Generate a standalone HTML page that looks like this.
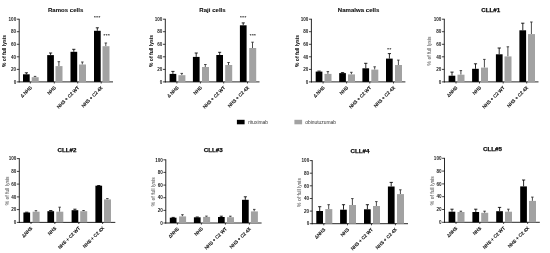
<!DOCTYPE html><html><head><meta charset="utf-8"><title>figure</title><style>html,body{margin:0;padding:0;background:#fff}svg{display:block;filter:blur(0.3px)}text{font-family:"Liberation Sans",sans-serif}</style></head><body>
<svg width="550" height="253" viewBox="0 0 550 253">
<rect width="550" height="253" fill="#fff"/>
<g>
<text x="65.7" y="12.2" font-size="6.0" stroke="#111" stroke-width="0.1" letter-spacing="0.04" font-weight="bold" text-anchor="middle" fill="#111">Ramos cells</text>
<text transform="translate(6.4,51.0) rotate(-90)" font-size="5" font-weight="bold" text-anchor="middle" fill="#000">% of full lysis</text>
<path d="M19.2 18.8V82.4M18.8 81.9H113.0" stroke="#111" stroke-width="0.9" fill="none"/>
<path d="M16.8 81.9H19.2" stroke="#111" stroke-width="0.8"/>
<text x="16.2" y="83.6" font-size="4.6" font-weight="bold" text-anchor="end" fill="#222">0</text>
<path d="M16.8 69.4H19.2" stroke="#111" stroke-width="0.8"/>
<text x="16.2" y="71.0" font-size="4.6" font-weight="bold" text-anchor="end" fill="#222">20</text>
<path d="M16.8 56.8H19.2" stroke="#111" stroke-width="0.8"/>
<text x="16.2" y="58.5" font-size="4.6" font-weight="bold" text-anchor="end" fill="#222">40</text>
<path d="M16.8 44.3H19.2" stroke="#111" stroke-width="0.8"/>
<text x="16.2" y="45.9" font-size="4.6" font-weight="bold" text-anchor="end" fill="#222">60</text>
<path d="M16.8 31.7H19.2" stroke="#111" stroke-width="0.8"/>
<text x="16.2" y="33.4" font-size="4.6" font-weight="bold" text-anchor="end" fill="#222">80</text>
<path d="M16.8 19.2H19.2" stroke="#111" stroke-width="0.8"/>
<text x="16.2" y="20.9" font-size="4.6" font-weight="bold" text-anchor="end" fill="#222">100</text>
<path d="M26.4 74.3V72.8M24.8 72.8H28.0" stroke="#000" stroke-width="0.85" fill="none"/>
<path d="M35.0 77.2V76.4M33.8 76.4H36.3" stroke="#2a2a2a" stroke-width="0.85" fill="none"/>
<rect x="23.0" y="74.3" width="6.7" height="7.6" fill="#000"/>
<rect x="31.7" y="77.2" width="7.0" height="4.7" fill="#a2a2a2"/>
<path d="M30.3 81.9v1.6" stroke="#111" stroke-width="0.8"/>
<text transform="translate(32.1,88.1) rotate(-45)" font-size="4.6" text-anchor="end" fill="#111" stroke="#111" stroke-width="0.2">Δ NHS</text>
<path d="M50.6 55.1V53.0M49.0 53.0H52.2" stroke="#000" stroke-width="0.85" fill="none"/>
<path d="M58.9 66.1V61.7M57.6 61.7H60.1" stroke="#2a2a2a" stroke-width="0.85" fill="none"/>
<rect x="47.2" y="55.1" width="6.7" height="26.8" fill="#000"/>
<rect x="55.5" y="66.1" width="7.0" height="15.8" fill="#a2a2a2"/>
<path d="M54.3 81.9v1.6" stroke="#111" stroke-width="0.8"/>
<text transform="translate(56.1,88.1) rotate(-45)" font-size="4.6" text-anchor="end" fill="#111" stroke="#111" stroke-width="0.2">NHS</text>
<path d="M73.8 51.8V49.3M72.2 49.3H75.4" stroke="#000" stroke-width="0.85" fill="none"/>
<path d="M82.3 64.5V62.0M81.1 62.0H83.6" stroke="#2a2a2a" stroke-width="0.85" fill="none"/>
<rect x="70.5" y="51.8" width="6.7" height="30.1" fill="#000"/>
<rect x="79.0" y="64.5" width="7.0" height="17.4" fill="#a2a2a2"/>
<path d="M77.7 81.9v1.6" stroke="#111" stroke-width="0.8"/>
<text transform="translate(79.5,88.1) rotate(-45)" font-size="4.6" text-anchor="end" fill="#111" stroke="#111" stroke-width="0.2">NHS + C2 WT</text>
<path d="M97.3 30.8V27.8M95.8 27.8H98.9" stroke="#000" stroke-width="0.85" fill="none"/>
<path d="M105.8 46.2V43.0M104.6 43.0H107.1" stroke="#2a2a2a" stroke-width="0.85" fill="none"/>
<rect x="94.0" y="30.8" width="6.7" height="51.1" fill="#000"/>
<rect x="102.5" y="46.2" width="7.0" height="35.7" fill="#a2a2a2"/>
<path d="M101.2 81.9v1.6" stroke="#111" stroke-width="0.8"/>
<text transform="translate(103.0,88.1) rotate(-45)" font-size="4.6" text-anchor="end" fill="#111" stroke="#111" stroke-width="0.2">NHS + C2 4X</text>
<text x="97.4" y="19.4" font-size="4.4" letter-spacing="0.5" text-anchor="middle" fill="#333" stroke="#333" stroke-width="0.15">***</text>
<text x="106.9" y="37.4" font-size="4.4" letter-spacing="0.5" text-anchor="middle" fill="#333" stroke="#333" stroke-width="0.15">***</text>
</g>
<g>
<text x="212.5" y="12.2" font-size="6.0" stroke="#111" stroke-width="0.1" letter-spacing="0.04" font-weight="bold" text-anchor="middle" fill="#111">Raji cells</text>
<text transform="translate(152.5,51.0) rotate(-90)" font-size="5" font-weight="bold" text-anchor="middle" fill="#000">% of full lysis</text>
<path d="M165.3 18.8V82.4M164.9 81.9H259.5" stroke="#111" stroke-width="0.9" fill="none"/>
<path d="M162.9 81.9H165.3" stroke="#111" stroke-width="0.8"/>
<text x="162.3" y="83.6" font-size="4.6" font-weight="bold" text-anchor="end" fill="#222">0</text>
<path d="M162.9 69.4H165.3" stroke="#111" stroke-width="0.8"/>
<text x="162.3" y="71.0" font-size="4.6" font-weight="bold" text-anchor="end" fill="#222">20</text>
<path d="M162.9 56.8H165.3" stroke="#111" stroke-width="0.8"/>
<text x="162.3" y="58.5" font-size="4.6" font-weight="bold" text-anchor="end" fill="#222">40</text>
<path d="M162.9 44.3H165.3" stroke="#111" stroke-width="0.8"/>
<text x="162.3" y="45.9" font-size="4.6" font-weight="bold" text-anchor="end" fill="#222">60</text>
<path d="M162.9 31.7H165.3" stroke="#111" stroke-width="0.8"/>
<text x="162.3" y="33.4" font-size="4.6" font-weight="bold" text-anchor="end" fill="#222">80</text>
<path d="M162.9 19.2H165.3" stroke="#111" stroke-width="0.8"/>
<text x="162.3" y="20.9" font-size="4.6" font-weight="bold" text-anchor="end" fill="#222">100</text>
<path d="M172.9 73.9V71.4M171.3 71.4H174.5" stroke="#000" stroke-width="0.85" fill="none"/>
<path d="M181.8 75.2V73.4M180.5 73.4H183.0" stroke="#2a2a2a" stroke-width="0.85" fill="none"/>
<rect x="169.6" y="73.9" width="6.7" height="8.0" fill="#000"/>
<rect x="178.4" y="75.2" width="7.0" height="6.7" fill="#a2a2a2"/>
<path d="M176.9 81.9v1.6" stroke="#111" stroke-width="0.8"/>
<text transform="translate(178.8,88.1) rotate(-45)" font-size="4.6" text-anchor="end" fill="#111" stroke="#111" stroke-width="0.2">Δ NHS</text>
<path d="M196.2 56.9V53.0M194.7 53.0H197.8" stroke="#000" stroke-width="0.85" fill="none"/>
<path d="M205.3 67.0V64.5M204.1 64.5H206.6" stroke="#2a2a2a" stroke-width="0.85" fill="none"/>
<rect x="192.9" y="56.9" width="6.7" height="25.0" fill="#000"/>
<rect x="202.0" y="67.0" width="7.0" height="14.9" fill="#a2a2a2"/>
<path d="M200.4 81.9v1.6" stroke="#111" stroke-width="0.8"/>
<text transform="translate(202.2,88.1) rotate(-45)" font-size="4.6" text-anchor="end" fill="#111" stroke="#111" stroke-width="0.2">NHS</text>
<path d="M219.7 55.0V52.3M218.1 52.3H221.2" stroke="#000" stroke-width="0.85" fill="none"/>
<path d="M228.5 65.0V62.5M227.3 62.5H229.8" stroke="#2a2a2a" stroke-width="0.85" fill="none"/>
<rect x="216.3" y="55.0" width="6.7" height="26.9" fill="#000"/>
<rect x="225.2" y="65.0" width="7.0" height="16.9" fill="#a2a2a2"/>
<path d="M223.7 81.9v1.6" stroke="#111" stroke-width="0.8"/>
<text transform="translate(225.5,88.1) rotate(-45)" font-size="4.6" text-anchor="end" fill="#111" stroke="#111" stroke-width="0.2">NHS + C2 WT</text>
<path d="M243.2 25.3V22.9M241.7 22.9H244.8" stroke="#000" stroke-width="0.85" fill="none"/>
<path d="M252.5 48.0V42.2M251.3 42.2H253.8" stroke="#2a2a2a" stroke-width="0.85" fill="none"/>
<rect x="239.9" y="25.3" width="6.7" height="56.6" fill="#000"/>
<rect x="249.2" y="48.0" width="7.0" height="33.9" fill="#a2a2a2"/>
<path d="M247.5 81.9v1.6" stroke="#111" stroke-width="0.8"/>
<text transform="translate(249.3,88.1) rotate(-45)" font-size="4.6" text-anchor="end" fill="#111" stroke="#111" stroke-width="0.2">NHS + C2 4X</text>
<text x="243.4" y="19.4" font-size="4.4" letter-spacing="0.5" text-anchor="middle" fill="#333" stroke="#333" stroke-width="0.15">***</text>
<text x="253.0" y="37.4" font-size="4.4" letter-spacing="0.5" text-anchor="middle" fill="#333" stroke="#333" stroke-width="0.15">***</text>
</g>
<g>
<text x="358.6" y="12.2" font-size="6.0" stroke="#111" stroke-width="0.1" letter-spacing="0.04" font-weight="bold" text-anchor="middle" fill="#111">Namalwa cells</text>
<text transform="translate(299.0,51.0) rotate(-90)" font-size="5" font-weight="bold" text-anchor="middle" fill="#000">% of full lysis</text>
<path d="M311.4 18.8V82.4M311.0 81.9H405.4" stroke="#111" stroke-width="0.9" fill="none"/>
<path d="M309.0 81.9H311.4" stroke="#111" stroke-width="0.8"/>
<text x="308.4" y="83.6" font-size="4.6" font-weight="bold" text-anchor="end" fill="#222">0</text>
<path d="M309.0 69.4H311.4" stroke="#111" stroke-width="0.8"/>
<text x="308.4" y="71.0" font-size="4.6" font-weight="bold" text-anchor="end" fill="#222">20</text>
<path d="M309.0 56.8H311.4" stroke="#111" stroke-width="0.8"/>
<text x="308.4" y="58.5" font-size="4.6" font-weight="bold" text-anchor="end" fill="#222">40</text>
<path d="M309.0 44.3H311.4" stroke="#111" stroke-width="0.8"/>
<text x="308.4" y="45.9" font-size="4.6" font-weight="bold" text-anchor="end" fill="#222">60</text>
<path d="M309.0 31.7H311.4" stroke="#111" stroke-width="0.8"/>
<text x="308.4" y="33.4" font-size="4.6" font-weight="bold" text-anchor="end" fill="#222">80</text>
<path d="M309.0 19.2H311.4" stroke="#111" stroke-width="0.8"/>
<text x="308.4" y="20.9" font-size="4.6" font-weight="bold" text-anchor="end" fill="#222">100</text>
<path d="M319.1 71.6V71.1M317.4 71.1H320.7" stroke="#000" stroke-width="0.85" fill="none"/>
<path d="M327.9 73.9V71.6M326.6 71.6H329.1" stroke="#2a2a2a" stroke-width="0.85" fill="none"/>
<rect x="315.7" y="71.6" width="6.7" height="10.3" fill="#000"/>
<rect x="324.5" y="73.9" width="7.0" height="8.0" fill="#a2a2a2"/>
<path d="M323.1 81.9v1.6" stroke="#111" stroke-width="0.8"/>
<text transform="translate(324.9,88.1) rotate(-45)" font-size="4.6" text-anchor="end" fill="#111" stroke="#111" stroke-width="0.2">Δ NHS</text>
<path d="M342.6 73.1V72.6M340.9 72.6H344.2" stroke="#000" stroke-width="0.85" fill="none"/>
<path d="M351.4 74.4V72.3M350.1 72.3H352.6" stroke="#2a2a2a" stroke-width="0.85" fill="none"/>
<rect x="339.2" y="73.1" width="6.7" height="8.8" fill="#000"/>
<rect x="348.0" y="74.4" width="7.0" height="7.5" fill="#a2a2a2"/>
<path d="M346.6 81.9v1.6" stroke="#111" stroke-width="0.8"/>
<text transform="translate(348.4,88.1) rotate(-45)" font-size="4.6" text-anchor="end" fill="#111" stroke="#111" stroke-width="0.2">NHS</text>
<path d="M365.8 68.3V63.3M364.1 63.3H367.4" stroke="#000" stroke-width="0.85" fill="none"/>
<path d="M374.7 69.6V66.8M373.4 66.8H375.9" stroke="#2a2a2a" stroke-width="0.85" fill="none"/>
<rect x="362.4" y="68.3" width="6.7" height="13.6" fill="#000"/>
<rect x="371.3" y="69.6" width="7.0" height="12.3" fill="#a2a2a2"/>
<path d="M369.8 81.9v1.6" stroke="#111" stroke-width="0.8"/>
<text transform="translate(371.6,88.1) rotate(-45)" font-size="4.6" text-anchor="end" fill="#111" stroke="#111" stroke-width="0.2">NHS + C2 WT</text>
<path d="M389.4 58.6V53.6M387.8 53.6H391.0" stroke="#000" stroke-width="0.85" fill="none"/>
<path d="M398.4 65.0V60.1M397.1 60.1H399.6" stroke="#2a2a2a" stroke-width="0.85" fill="none"/>
<rect x="386.0" y="58.6" width="6.7" height="23.3" fill="#000"/>
<rect x="395.0" y="65.0" width="7.0" height="16.9" fill="#a2a2a2"/>
<path d="M393.5 81.9v1.6" stroke="#111" stroke-width="0.8"/>
<text transform="translate(395.3,88.1) rotate(-45)" font-size="4.6" text-anchor="end" fill="#111" stroke="#111" stroke-width="0.2">NHS + C2 4X</text>
<text x="389.5" y="51.4" font-size="4.4" letter-spacing="0.5" text-anchor="middle" fill="#333" stroke="#333" stroke-width="0.15">**</text>
</g>
<g>
<text x="490.8" y="12.2" font-size="6.2" stroke="#000" stroke-width="0.25" font-weight="bold" text-anchor="middle" fill="#111">CLL#1</text>
<text transform="translate(430.9,51.0) rotate(-90)" font-size="5.0" text-anchor="middle" fill="#707070" stroke="#707070" stroke-width="0.1">% of full lysis</text>
<path d="M444.3 18.8V82.4M443.9 81.9H538.5" stroke="#111" stroke-width="0.9" fill="none"/>
<path d="M441.9 81.9H444.3" stroke="#111" stroke-width="0.8"/>
<text x="441.3" y="83.6" font-size="4.6" font-weight="bold" text-anchor="end" fill="#222">0</text>
<path d="M441.9 69.4H444.3" stroke="#111" stroke-width="0.8"/>
<text x="441.3" y="71.0" font-size="4.6" font-weight="bold" text-anchor="end" fill="#222">20</text>
<path d="M441.9 56.8H444.3" stroke="#111" stroke-width="0.8"/>
<text x="441.3" y="58.5" font-size="4.6" font-weight="bold" text-anchor="end" fill="#222">40</text>
<path d="M441.9 44.3H444.3" stroke="#111" stroke-width="0.8"/>
<text x="441.3" y="45.9" font-size="4.6" font-weight="bold" text-anchor="end" fill="#222">60</text>
<path d="M441.9 31.7H444.3" stroke="#111" stroke-width="0.8"/>
<text x="441.3" y="33.4" font-size="4.6" font-weight="bold" text-anchor="end" fill="#222">80</text>
<path d="M441.9 19.2H444.3" stroke="#111" stroke-width="0.8"/>
<text x="441.3" y="20.9" font-size="4.6" font-weight="bold" text-anchor="end" fill="#222">100</text>
<path d="M452.0 75.7V72.1M450.4 72.1H453.6" stroke="#000" stroke-width="0.85" fill="none"/>
<path d="M460.9 74.7V70.6M459.6 70.6H462.1" stroke="#2a2a2a" stroke-width="0.85" fill="none"/>
<rect x="448.6" y="75.7" width="6.7" height="6.2" fill="#000"/>
<rect x="457.5" y="74.7" width="7.0" height="7.2" fill="#a2a2a2"/>
<path d="M456.0 81.9v1.6" stroke="#111" stroke-width="0.8"/>
<text transform="translate(457.8,88.1) rotate(-45)" font-size="4.6" text-anchor="end" fill="#111" stroke="#111" stroke-width="0.2">ΔNHS</text>
<path d="M475.5 68.8V63.8M473.9 63.8H477.1" stroke="#000" stroke-width="0.85" fill="none"/>
<path d="M484.4 67.6V59.4M483.1 59.4H485.6" stroke="#2a2a2a" stroke-width="0.85" fill="none"/>
<rect x="472.1" y="68.8" width="6.7" height="13.1" fill="#000"/>
<rect x="481.0" y="67.6" width="7.0" height="14.3" fill="#a2a2a2"/>
<path d="M479.5 81.9v1.6" stroke="#111" stroke-width="0.8"/>
<text transform="translate(481.3,88.1) rotate(-45)" font-size="4.6" text-anchor="end" fill="#111" stroke="#111" stroke-width="0.2">NHS</text>
<path d="M499.2 54.3V48.0M497.6 48.0H500.9" stroke="#000" stroke-width="0.85" fill="none"/>
<path d="M507.9 56.4V46.8M506.6 46.8H509.1" stroke="#2a2a2a" stroke-width="0.85" fill="none"/>
<rect x="495.9" y="54.3" width="6.7" height="27.6" fill="#000"/>
<rect x="504.5" y="56.4" width="7.0" height="25.5" fill="#a2a2a2"/>
<path d="M503.2 81.9v1.6" stroke="#111" stroke-width="0.8"/>
<text transform="translate(505.0,88.1) rotate(-45)" font-size="4.6" text-anchor="end" fill="#111" stroke="#111" stroke-width="0.2">NHS + C2 WT</text>
<path d="M522.8 30.3V23.2M521.1 23.2H524.4" stroke="#000" stroke-width="0.85" fill="none"/>
<path d="M531.4 34.1V22.0M530.1 22.0H532.6" stroke="#2a2a2a" stroke-width="0.85" fill="none"/>
<rect x="519.4" y="30.3" width="6.7" height="51.6" fill="#000"/>
<rect x="528.0" y="34.1" width="7.0" height="47.8" fill="#a2a2a2"/>
<path d="M526.7 81.9v1.6" stroke="#111" stroke-width="0.8"/>
<text transform="translate(528.5,88.1) rotate(-45)" font-size="4.6" text-anchor="end" fill="#111" stroke="#111" stroke-width="0.2">NHS + C2 4X</text>
</g>
<g>
<text x="67.0" y="151.8" font-size="6.2" stroke="#000" stroke-width="0.25" font-weight="bold" text-anchor="middle" fill="#111">CLL#2</text>
<text transform="translate(8.8,190.9) rotate(-90)" font-size="5.0" text-anchor="middle" fill="#707070" stroke="#707070" stroke-width="0.1">% of full lysis</text>
<path d="M19.3 158.2V222.9M18.9 222.4H115.3" stroke="#111" stroke-width="0.9" fill="none"/>
<path d="M16.9 222.4H19.3" stroke="#111" stroke-width="0.8"/>
<text x="16.3" y="224.1" font-size="4.6" font-weight="bold" text-anchor="end" fill="#222">0</text>
<path d="M16.9 209.6H19.3" stroke="#111" stroke-width="0.8"/>
<text x="16.3" y="211.3" font-size="4.6" font-weight="bold" text-anchor="end" fill="#222">20</text>
<path d="M16.9 196.9H19.3" stroke="#111" stroke-width="0.8"/>
<text x="16.3" y="198.5" font-size="4.6" font-weight="bold" text-anchor="end" fill="#222">40</text>
<path d="M16.9 184.1H19.3" stroke="#111" stroke-width="0.8"/>
<text x="16.3" y="185.8" font-size="4.6" font-weight="bold" text-anchor="end" fill="#222">60</text>
<path d="M16.9 171.4H19.3" stroke="#111" stroke-width="0.8"/>
<text x="16.3" y="173.0" font-size="4.6" font-weight="bold" text-anchor="end" fill="#222">80</text>
<path d="M16.9 158.6H19.3" stroke="#111" stroke-width="0.8"/>
<text x="16.3" y="160.2" font-size="4.6" font-weight="bold" text-anchor="end" fill="#222">100</text>
<path d="M26.8 212.5V212.2M25.1 212.2H28.4" stroke="#000" stroke-width="0.85" fill="none"/>
<path d="M36.0 211.7V210.7M34.7 210.7H37.2" stroke="#2a2a2a" stroke-width="0.85" fill="none"/>
<rect x="23.4" y="212.5" width="6.7" height="9.9" fill="#000"/>
<rect x="32.6" y="211.7" width="7.0" height="10.7" fill="#a2a2a2"/>
<path d="M31.0 222.4v1.6" stroke="#111" stroke-width="0.8"/>
<text transform="translate(32.8,228.6) rotate(-45)" font-size="4.6" text-anchor="end" fill="#111" stroke="#111" stroke-width="0.2">ΔNHS</text>
<path d="M50.8 211.2V210.5M49.1 210.5H52.4" stroke="#000" stroke-width="0.85" fill="none"/>
<path d="M59.6 211.7V207.2M58.4 207.2H60.9" stroke="#2a2a2a" stroke-width="0.85" fill="none"/>
<rect x="47.4" y="211.2" width="6.7" height="11.2" fill="#000"/>
<rect x="56.3" y="211.7" width="7.0" height="10.7" fill="#a2a2a2"/>
<path d="M54.8 222.4v1.6" stroke="#111" stroke-width="0.8"/>
<text transform="translate(56.6,228.6) rotate(-45)" font-size="4.6" text-anchor="end" fill="#111" stroke="#111" stroke-width="0.2">NHS</text>
<path d="M74.9 210.2V209.2M73.3 209.2H76.5" stroke="#000" stroke-width="0.85" fill="none"/>
<path d="M83.5 211.2V210.5M82.3 210.5H84.8" stroke="#2a2a2a" stroke-width="0.85" fill="none"/>
<rect x="71.6" y="210.2" width="6.7" height="12.2" fill="#000"/>
<rect x="80.2" y="211.2" width="7.0" height="11.2" fill="#a2a2a2"/>
<path d="M78.8 222.4v1.6" stroke="#111" stroke-width="0.8"/>
<text transform="translate(80.6,228.6) rotate(-45)" font-size="4.6" text-anchor="end" fill="#111" stroke="#111" stroke-width="0.2">NHS + C2 WT</text>
<path d="M98.8 185.7V185.5M97.2 185.5H100.3" stroke="#000" stroke-width="0.85" fill="none"/>
<path d="M107.3 199.4V198.6M106.1 198.6H108.6" stroke="#2a2a2a" stroke-width="0.85" fill="none"/>
<rect x="95.4" y="185.7" width="6.7" height="36.7" fill="#000"/>
<rect x="104.0" y="199.4" width="7.0" height="23.0" fill="#a2a2a2"/>
<path d="M102.6 222.4v1.6" stroke="#111" stroke-width="0.8"/>
<text transform="translate(104.4,228.6) rotate(-45)" font-size="4.6" text-anchor="end" fill="#111" stroke="#111" stroke-width="0.2">NHS + C2 4X</text>
</g>
<g>
<text x="213.3" y="152.1" font-size="6.2" stroke="#000" stroke-width="0.25" font-weight="bold" text-anchor="middle" fill="#111">CLL#3</text>
<text transform="translate(154.9,191.8) rotate(-90)" font-size="5.0" text-anchor="middle" fill="#707070" stroke="#707070" stroke-width="0.1">% of full lysis</text>
<path d="M165.8 159.4V223.5M165.4 223.0H261.6" stroke="#111" stroke-width="0.9" fill="none"/>
<path d="M163.4 223.0H165.8" stroke="#111" stroke-width="0.8"/>
<text x="162.8" y="224.7" font-size="4.6" font-weight="bold" text-anchor="end" fill="#222">0</text>
<path d="M163.4 210.4H165.8" stroke="#111" stroke-width="0.8"/>
<text x="162.8" y="212.0" font-size="4.6" font-weight="bold" text-anchor="end" fill="#222">20</text>
<path d="M163.4 197.7H165.8" stroke="#111" stroke-width="0.8"/>
<text x="162.8" y="199.4" font-size="4.6" font-weight="bold" text-anchor="end" fill="#222">40</text>
<path d="M163.4 185.1H165.8" stroke="#111" stroke-width="0.8"/>
<text x="162.8" y="186.7" font-size="4.6" font-weight="bold" text-anchor="end" fill="#222">60</text>
<path d="M163.4 172.4H165.8" stroke="#111" stroke-width="0.8"/>
<text x="162.8" y="174.1" font-size="4.6" font-weight="bold" text-anchor="end" fill="#222">80</text>
<path d="M163.4 159.8H165.8" stroke="#111" stroke-width="0.8"/>
<text x="162.8" y="161.5" font-size="4.6" font-weight="bold" text-anchor="end" fill="#222">100</text>
<path d="M173.2 217.7V217.4M171.6 217.4H174.8" stroke="#000" stroke-width="0.85" fill="none"/>
<path d="M182.4 216.4V214.7M181.2 214.7H183.7" stroke="#2a2a2a" stroke-width="0.85" fill="none"/>
<rect x="169.8" y="217.7" width="6.7" height="5.3" fill="#000"/>
<rect x="179.1" y="216.4" width="7.0" height="6.6" fill="#a2a2a2"/>
<path d="M177.4 223.0v1.6" stroke="#111" stroke-width="0.8"/>
<text transform="translate(179.2,229.2) rotate(-45)" font-size="4.6" text-anchor="end" fill="#111" stroke="#111" stroke-width="0.2">ΔNHS</text>
<path d="M197.2 217.3V217.0M195.7 217.0H198.8" stroke="#000" stroke-width="0.85" fill="none"/>
<path d="M206.4 216.9V216.1M205.2 216.1H207.7" stroke="#2a2a2a" stroke-width="0.85" fill="none"/>
<rect x="193.9" y="217.3" width="6.7" height="5.7" fill="#000"/>
<rect x="203.1" y="216.9" width="7.0" height="6.1" fill="#a2a2a2"/>
<path d="M201.4 223.0v1.6" stroke="#111" stroke-width="0.8"/>
<text transform="translate(203.2,229.2) rotate(-45)" font-size="4.6" text-anchor="end" fill="#111" stroke="#111" stroke-width="0.2">NHS</text>
<path d="M221.3 217.0V216.2M219.8 216.2H222.9" stroke="#000" stroke-width="0.85" fill="none"/>
<path d="M230.3 217.2V216.2M229.1 216.2H231.6" stroke="#2a2a2a" stroke-width="0.85" fill="none"/>
<rect x="218.0" y="217.0" width="6.7" height="6.0" fill="#000"/>
<rect x="227.0" y="217.2" width="7.0" height="5.8" fill="#a2a2a2"/>
<path d="M225.4 223.0v1.6" stroke="#111" stroke-width="0.8"/>
<text transform="translate(227.2,229.2) rotate(-45)" font-size="4.6" text-anchor="end" fill="#111" stroke="#111" stroke-width="0.2">NHS + C2 WT</text>
<path d="M245.3 199.8V196.8M243.8 196.8H246.9" stroke="#000" stroke-width="0.85" fill="none"/>
<path d="M254.2 211.4V209.4M253.0 209.4H255.5" stroke="#2a2a2a" stroke-width="0.85" fill="none"/>
<rect x="242.0" y="199.8" width="6.7" height="23.2" fill="#000"/>
<rect x="250.9" y="211.4" width="7.0" height="11.6" fill="#a2a2a2"/>
<path d="M249.4 223.0v1.6" stroke="#111" stroke-width="0.8"/>
<text transform="translate(251.2,229.2) rotate(-45)" font-size="4.6" text-anchor="end" fill="#111" stroke="#111" stroke-width="0.2">NHS + C2 4X</text>
</g>
<g>
<text x="359.9" y="153.1" font-size="6.2" stroke="#000" stroke-width="0.25" font-weight="bold" text-anchor="middle" fill="#111">CLL#4</text>
<text transform="translate(301.0,192.5) rotate(-90)" font-size="5.0" text-anchor="middle" fill="#707070" stroke="#707070" stroke-width="0.1">% of full lysis</text>
<path d="M312.2 160.2V224.2M311.8 223.7H408.0" stroke="#111" stroke-width="0.9" fill="none"/>
<path d="M309.8 223.7H312.2" stroke="#111" stroke-width="0.8"/>
<text x="309.2" y="225.3" font-size="4.6" font-weight="bold" text-anchor="end" fill="#222">0</text>
<path d="M309.8 211.1H312.2" stroke="#111" stroke-width="0.8"/>
<text x="309.2" y="212.7" font-size="4.6" font-weight="bold" text-anchor="end" fill="#222">20</text>
<path d="M309.8 198.5H312.2" stroke="#111" stroke-width="0.8"/>
<text x="309.2" y="200.1" font-size="4.6" font-weight="bold" text-anchor="end" fill="#222">40</text>
<path d="M309.8 185.8H312.2" stroke="#111" stroke-width="0.8"/>
<text x="309.2" y="187.5" font-size="4.6" font-weight="bold" text-anchor="end" fill="#222">60</text>
<path d="M309.8 173.2H312.2" stroke="#111" stroke-width="0.8"/>
<text x="309.2" y="174.9" font-size="4.6" font-weight="bold" text-anchor="end" fill="#222">80</text>
<path d="M309.8 160.6H312.2" stroke="#111" stroke-width="0.8"/>
<text x="309.2" y="162.2" font-size="4.6" font-weight="bold" text-anchor="end" fill="#222">100</text>
<path d="M319.7 211.0V206.7M318.1 206.7H321.3" stroke="#000" stroke-width="0.85" fill="none"/>
<path d="M328.7 209.1V204.7M327.4 204.7H329.9" stroke="#2a2a2a" stroke-width="0.85" fill="none"/>
<rect x="316.3" y="211.0" width="6.7" height="12.7" fill="#000"/>
<rect x="325.3" y="209.1" width="7.0" height="14.6" fill="#a2a2a2"/>
<path d="M323.8 223.7v1.6" stroke="#111" stroke-width="0.8"/>
<text transform="translate(325.6,229.9) rotate(-45)" font-size="4.6" text-anchor="end" fill="#111" stroke="#111" stroke-width="0.2">ΔNHS</text>
<path d="M343.5 209.7V204.7M341.9 204.7H345.1" stroke="#000" stroke-width="0.85" fill="none"/>
<path d="M352.4 205.0V198.6M351.1 198.6H353.6" stroke="#2a2a2a" stroke-width="0.85" fill="none"/>
<rect x="340.1" y="209.7" width="6.7" height="14.0" fill="#000"/>
<rect x="349.0" y="205.0" width="7.0" height="18.7" fill="#a2a2a2"/>
<path d="M347.5 223.7v1.6" stroke="#111" stroke-width="0.8"/>
<text transform="translate(349.3,229.9) rotate(-45)" font-size="4.6" text-anchor="end" fill="#111" stroke="#111" stroke-width="0.2">NHS</text>
<path d="M367.4 209.3V204.7M365.8 204.7H369.0" stroke="#000" stroke-width="0.85" fill="none"/>
<path d="M376.4 206.0V201.6M375.1 201.6H377.6" stroke="#2a2a2a" stroke-width="0.85" fill="none"/>
<rect x="364.0" y="209.3" width="6.7" height="14.4" fill="#000"/>
<rect x="373.0" y="206.0" width="7.0" height="17.7" fill="#a2a2a2"/>
<path d="M371.5 223.7v1.6" stroke="#111" stroke-width="0.8"/>
<text transform="translate(373.3,229.9) rotate(-45)" font-size="4.6" text-anchor="end" fill="#111" stroke="#111" stroke-width="0.2">NHS + C2 WT</text>
<path d="M391.2 186.5V182.4M389.6 182.4H392.9" stroke="#000" stroke-width="0.85" fill="none"/>
<path d="M400.4 194.1V189.8M399.1 189.8H401.6" stroke="#2a2a2a" stroke-width="0.85" fill="none"/>
<rect x="387.9" y="186.5" width="6.7" height="37.2" fill="#000"/>
<rect x="397.0" y="194.1" width="7.0" height="29.6" fill="#a2a2a2"/>
<path d="M395.4 223.7v1.6" stroke="#111" stroke-width="0.8"/>
<text transform="translate(397.2,229.9) rotate(-45)" font-size="4.6" text-anchor="end" fill="#111" stroke="#111" stroke-width="0.2">NHS + C2 4X</text>
</g>
<g>
<text x="492.4" y="151.2" font-size="6.2" stroke="#000" stroke-width="0.25" font-weight="bold" text-anchor="middle" fill="#111">CLL#5</text>
<text transform="translate(433.6,190.7) rotate(-90)" font-size="5.0" text-anchor="middle" fill="#707070" stroke="#707070" stroke-width="0.1">% of full lysis</text>
<path d="M444.5 157.9V222.8M444.1 222.3H539.8" stroke="#111" stroke-width="0.9" fill="none"/>
<path d="M442.1 222.3H444.5" stroke="#111" stroke-width="0.8"/>
<text x="441.5" y="224.0" font-size="4.6" font-weight="bold" text-anchor="end" fill="#222">0</text>
<path d="M442.1 209.5H444.5" stroke="#111" stroke-width="0.8"/>
<text x="441.5" y="211.2" font-size="4.6" font-weight="bold" text-anchor="end" fill="#222">20</text>
<path d="M442.1 196.7H444.5" stroke="#111" stroke-width="0.8"/>
<text x="441.5" y="198.4" font-size="4.6" font-weight="bold" text-anchor="end" fill="#222">40</text>
<path d="M442.1 183.9H444.5" stroke="#111" stroke-width="0.8"/>
<text x="441.5" y="185.6" font-size="4.6" font-weight="bold" text-anchor="end" fill="#222">60</text>
<path d="M442.1 171.1H444.5" stroke="#111" stroke-width="0.8"/>
<text x="441.5" y="172.8" font-size="4.6" font-weight="bold" text-anchor="end" fill="#222">80</text>
<path d="M442.1 158.3H444.5" stroke="#111" stroke-width="0.8"/>
<text x="441.5" y="160.0" font-size="4.6" font-weight="bold" text-anchor="end" fill="#222">100</text>
<path d="M452.0 211.7V209.2M450.4 209.2H453.6" stroke="#000" stroke-width="0.85" fill="none"/>
<path d="M460.9 212.0V211.2M459.6 211.2H462.1" stroke="#2a2a2a" stroke-width="0.85" fill="none"/>
<rect x="448.6" y="211.7" width="6.7" height="10.6" fill="#000"/>
<rect x="457.5" y="212.0" width="7.0" height="10.3" fill="#a2a2a2"/>
<path d="M456.0 222.3v1.6" stroke="#111" stroke-width="0.8"/>
<text transform="translate(457.8,228.5) rotate(-45)" font-size="4.6" text-anchor="end" fill="#111" stroke="#111" stroke-width="0.2">ΔNHS</text>
<path d="M475.8 212.0V209.2M474.1 209.2H477.4" stroke="#000" stroke-width="0.85" fill="none"/>
<path d="M484.6 212.8V211.2M483.3 211.2H485.8" stroke="#2a2a2a" stroke-width="0.85" fill="none"/>
<rect x="472.4" y="212.0" width="6.7" height="10.3" fill="#000"/>
<rect x="481.2" y="212.8" width="7.0" height="9.5" fill="#a2a2a2"/>
<path d="M479.8 222.3v1.6" stroke="#111" stroke-width="0.8"/>
<text transform="translate(481.6,228.5) rotate(-45)" font-size="4.6" text-anchor="end" fill="#111" stroke="#111" stroke-width="0.2">NHS</text>
<path d="M499.6 211.2V207.4M497.9 207.4H501.2" stroke="#000" stroke-width="0.85" fill="none"/>
<path d="M508.4 211.7V209.2M507.1 209.2H509.6" stroke="#2a2a2a" stroke-width="0.85" fill="none"/>
<rect x="496.2" y="211.2" width="6.7" height="11.1" fill="#000"/>
<rect x="505.0" y="211.7" width="7.0" height="10.6" fill="#a2a2a2"/>
<path d="M503.6 222.3v1.6" stroke="#111" stroke-width="0.8"/>
<text transform="translate(505.4,228.5) rotate(-45)" font-size="4.6" text-anchor="end" fill="#111" stroke="#111" stroke-width="0.2">NHS + C2 WT</text>
<path d="M523.6 186.4V180.0M522.0 180.0H525.2" stroke="#000" stroke-width="0.85" fill="none"/>
<path d="M532.4 200.9V197.1M531.1 197.1H533.6" stroke="#2a2a2a" stroke-width="0.85" fill="none"/>
<rect x="520.2" y="186.4" width="6.7" height="35.9" fill="#000"/>
<rect x="529.0" y="200.9" width="7.0" height="21.4" fill="#a2a2a2"/>
<path d="M527.6 222.3v1.6" stroke="#111" stroke-width="0.8"/>
<text transform="translate(529.4,228.5) rotate(-45)" font-size="4.6" text-anchor="end" fill="#111" stroke="#111" stroke-width="0.2">NHS + C2 4X</text>
</g>
<rect x="236.9" y="119.8" width="7.7" height="4.5" fill="#000"/>
<text x="248.2" y="123.7" font-size="4.9" fill="#333">rituximab</text>
<rect x="294.4" y="119.8" width="7.7" height="4.5" fill="#a2a2a2"/>
<text x="305.3" y="123.7" font-size="4.9" fill="#333">obinutuzumab</text>
</svg></body></html>
